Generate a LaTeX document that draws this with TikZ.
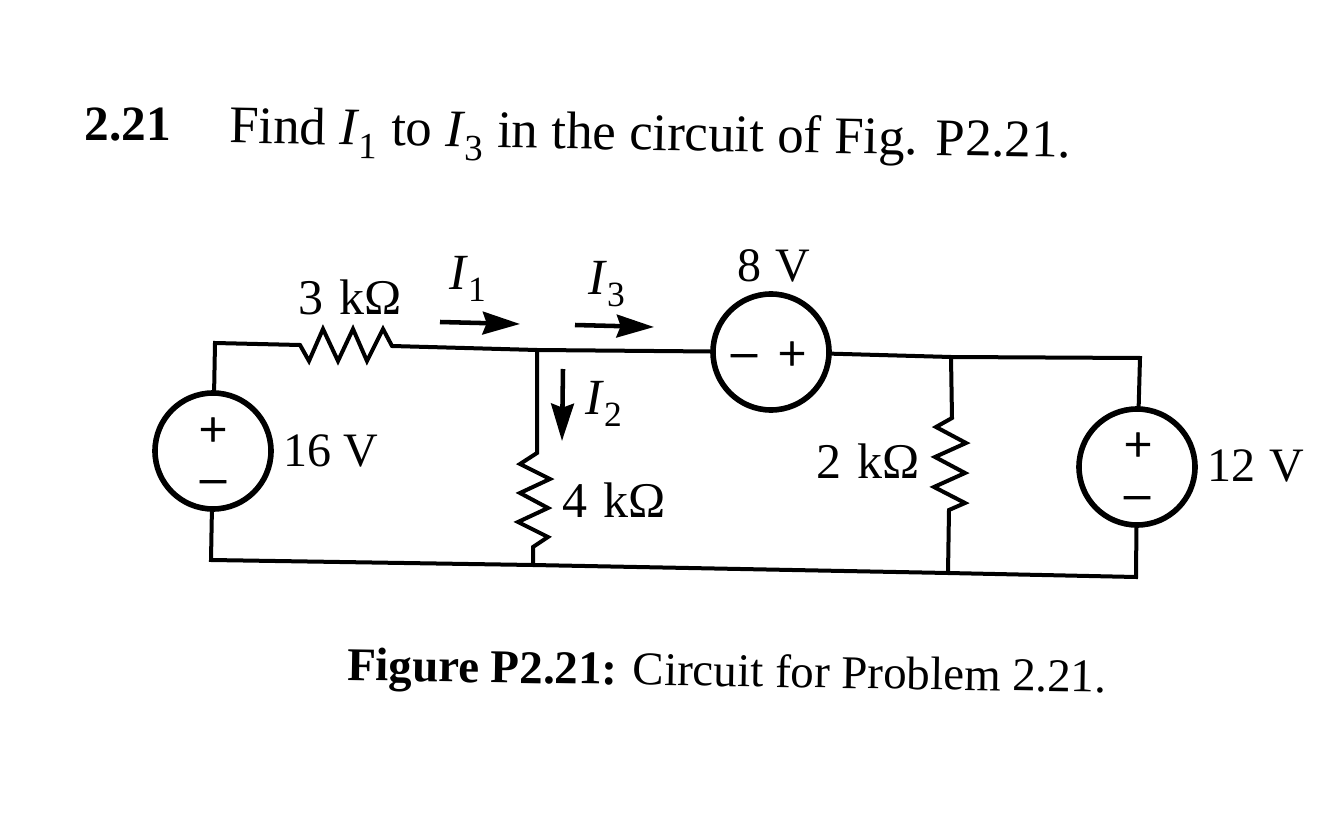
\documentclass[tikz,border=0pt]{standalone}
\usepackage{fontspec}
\setmainfont{Liberation Serif}
\newfontfamily\sgnfont[FakeBold=1.6]{Liberation Serif}
\usetikzlibrary{arrows.meta}
\tikzset{
 wire/.style={draw=black,line width=3pt,line cap=round,line join=miter},
 srcbox/.style={circle,draw=black,line width=4.2pt,minimum size=87pt,inner sep=0pt,fill=white},
 lbl/.style={inner sep=0pt,font=\fontsize{36pt}{36pt}\selectfont,text=black,anchor=center},
 reslbl/.style={inner sep=0pt,font=\fontsize{37.5pt}{37.5pt}\selectfont,text=black,anchor=center},
 curlbl/.style={inner sep=0pt,font=\fontsize{38pt}{38pt}\selectfont,text=black,anchor=center},
 ttl/.style={inner sep=0pt,font=\fontsize{39.6pt}{40pt}\selectfont,text=black,anchor=west,rotate=-1},
 capt/.style={inner sep=0pt,font=\fontsize{35.2pt}{36pt}\selectfont,text=black,anchor=west,rotate=-0.9},
 sgn/.style={inner sep=0pt,font=\fontsize{38pt}{38pt}\selectfont\sgnfont,text=black},
 cur/.style={draw=black,line width=3.4pt,-{Stealth[length=28pt,width=17pt,inset=3pt]}}
}
\begin{document}
\begin{tikzpicture}[x=0.75pt,y=-0.75pt]
\useasboundingbox (0,0) rectangle (1336,831);
% sources
\node[srcbox] (s1) at (213,451) {};
\node[srcbox] (s2) at (771,352) {};
\node[srcbox] (s3) at (1137,467) {};
% junctions
\coordinate (tl) at (215,343);
\coordinate (r1a) at (300,345);
\coordinate (r1b) at (392,346);
\coordinate (j1) at (537,350);
\coordinate (j2) at (951,357);
\coordinate (tr) at (1140,358);
\coordinate (bl) at (211,560);
\coordinate (j3) at (533,565);
\coordinate (j4) at (948,573);
\coordinate (br) at (1136,577);
\draw[wire] (s1) -- (tl) -- (r1a);
\draw[wire] (r1a) -- (309,361) -- (323,329) -- (338,361) -- (353,329) -- (367,361) -- (383,329) -- (r1b);
\draw[wire] (r1b) -- (j1) -- (s2);
\draw[wire] (s2) -- (j2) -- (tr) -- (s3);
\draw[wire] (s3) -- (br) -- (j4) -- (j3) -- (bl) -- (s1);
\draw[wire] (j1) -- (537,453) -- (520,464) -- (550,479) -- (520,493) -- (548,508) -- (518,522) -- (548,537) -- (533,547) -- (j3);
\draw[wire] (j2) -- (952,418) -- (936,427) -- (966,443) -- (935,457) -- (965,473) -- (934,487) -- (965,503) -- (949,510) -- (j4);
% source marks
\node[sgn] (p1) at (213,432) {+};
\node[sgn] (m1) at (213,487) {–};
\node[sgn] (m2) at (744,361) {–};
\node[sgn] (p2) at (792,356) {+};
\node[sgn] (p3) at (1138,447) {+};
\node[sgn] (m3) at (1137,503) {–};
% labels
\node[lbl,font=\fontsize{37pt}{37pt}\selectfont] (t0) at (128,125) {\textbf{2.21}};
\node[ttl] (t1) at (229,131) {Find \textit{I}\textsubscript{1} to \textit{I}\textsubscript{3} in the circuit of Fig. P2.21.};
\node[reslbl] (a) at (350,297) {3 \kern3pt kΩ};
\node[curlbl] (b) at (468,279) {\textit{I}\textsubscript{1}};
\node[curlbl] (c) at (607,284) {\textit{I}\textsubscript{3}};
\node[lbl] (d) at (774,266) {8 \kern2pt V};
\node[curlbl] (e) at (604,404) {\textit{I}\textsubscript{2}};
\node[lbl] (f) at (331,451) {16 V};
\node[reslbl] (g) at (868,461) {2 \kern3pt kΩ};
\node[reslbl] (h) at (614,500) {4 \kern3pt kΩ};
\node[lbl] (i) at (1256,466) {12 \kern2pt V};
\node[capt] (cap) at (347,669) {\textbf{Figure P2.21:} Circuit for Problem 2.21.};
% current arrows
\coordinate (c1a) at (440,322); \coordinate (c1b) at (520,324);
\coordinate (c3a) at (575,325); \coordinate (c3b) at (654,327);
\coordinate (c2a) at (563,369); \coordinate (c2b) at (562,441);
\draw[cur] (c1a) -- (c1b);
\draw[cur] (c3a) -- (c3b);
\draw[cur] (c2a) -- (c2b);
\end{tikzpicture}
\end{document}
